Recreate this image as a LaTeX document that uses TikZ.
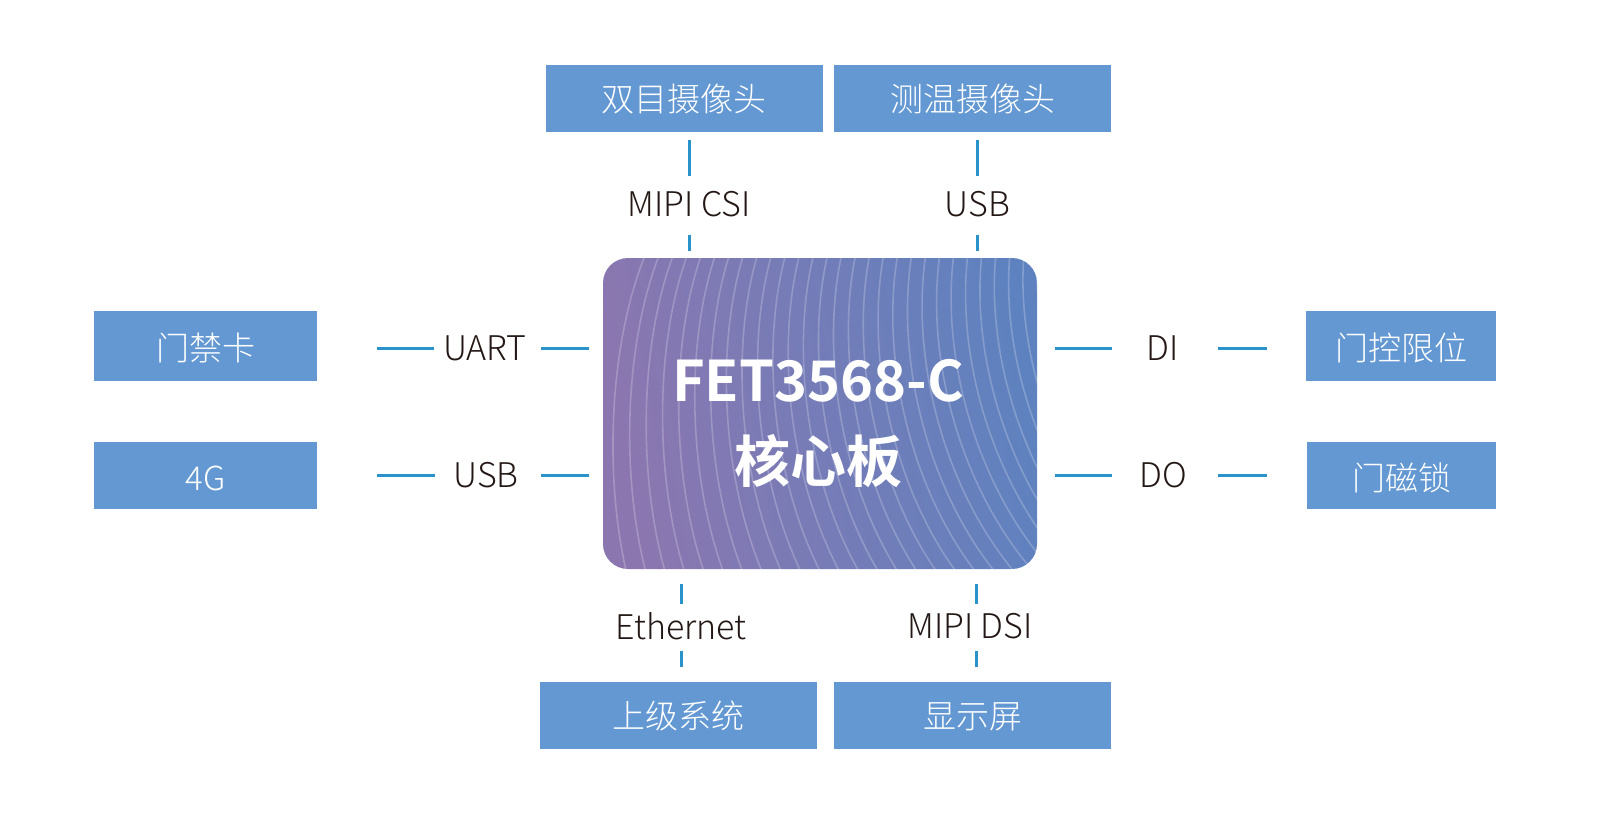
\documentclass[tikz,border=0pt]{standalone}
\usepackage{fontspec}
\setmainfont{Noto Sans CJK SC}[UprightFont={* Light},BoldFont={* Bold}]
\usepackage{xcolor}
\usepackage{tikz}
\definecolor{boxblue}{HTML}{6398D3}
\definecolor{linkblue}{HTML}{2A93CC}
\definecolor{labelblack}{HTML}{231815}
\definecolor{corepurple}{HTML}{8C76AF}
\definecolor{corecyan}{HTML}{5E82BF}
\tikzset{
        devbox/.style={fill=boxblue, text=white, font=\fontsize{33}{33}\selectfont, text height=26, text depth=0, inner sep=0pt, outer sep=0pt},
        hlabel/.style={text=labelblack, font=\fontsize{34}{34}\selectfont, minimum width=102, minimum height=40, inner sep=0pt, outer sep=0pt},
        vlabel/.style={text=labelblack, font=\fontsize{34}{34}\selectfont, inner sep=0pt, outer sep=0pt},
        link/.style={draw=linkblue, line width=3},
        corebox/.style={rounded corners=25, minimum width=434, minimum height=311, left color=corepurple, right color=corecyan, shading angle=100, inner sep=0pt, outer sep=0pt},
        coretitle/.style={text=white, align=center, inner sep=0pt, outer sep=0pt, font=\fontsize{56}{81}\selectfont\bfseries}
}
\begin{document}
\begin{tikzpicture}[x=1pt, y=-1pt]
        \useasboundingbox (0,0) rectangle (1600,839);

        \node[corebox, path picture={
            \foreach \i in {0,...,28} {
                \pgfmathsetmacro{\sx}{-174+14*\i}
                \pgfmathsetmacro{\ax}{-210+15*\i}
                \pgfmathsetmacro{\ay}{-73.5+0.8*\i}
                \pgfmathsetmacro{\bx}{-217+17*\i}
                \pgfmathsetmacro{\by}{59.5+0.8*\i}
                \pgfmathsetmacro{\ex}{-193+19.5*\i}
                \draw[white, opacity=0.22, line width=1.6] (\sx,-160.5) .. controls (\ax,\ay) and (\bx,\by) .. (\ex,161.5);
            }
        }] (core) at (820,413.5) {};
        \node[coretitle] (title) at (818,424) {FET3568-C\\核心板};

        \node[devbox, minimum width=277, minimum height=67] (binocular) at (684,98) {双目摄像头};
        \node[devbox, minimum width=277, minimum height=67] (thermal) at (972.5,98) {测温摄像头};
        \node[devbox, minimum width=223, minimum height=70, text height=28] (card) at (205.5,346) {门禁卡};
        \node[devbox, minimum width=223, minimum height=67, text height=30] (modem) at (205.5,475.5) {4G};
        \node[devbox, minimum width=190, minimum height=70, text height=28] (limit) at (1401,346) {门控限位};
        \node[devbox, minimum width=189, minimum height=67, text height=29] (lock) at (1401.5,475.5) {门磁锁};
        \node[devbox, minimum width=277, minimum height=67] (host) at (678.5,715.5) {上级系统};
        \node[devbox, minimum width=277, minimum height=67] (screen) at (972.5,715.5) {显示屏};

        \node[vlabel, minimum height=56] (csi) at (689,204) {MIPI CSI};
        \node[vlabel, minimum height=56] (usbtop) at (977.5,204) {USB};
        \node[hlabel] (uart) at (485,348) {UART};
        \node[hlabel] (usbleft) at (486,475) {USB};
        \node[hlabel] (di) at (1163,348) {DI};
        \node[hlabel] (do) at (1163,475) {DO};
        \node[vlabel, minimum height=44] (ethernet) at (681,626) {Ethernet};
        \node[vlabel, minimum height=44] (dsi) at (970,626) {MIPI DSI};

        \draw[link, shorten >=8.5] (csi.north) -- (csi.north |- binocular.south);
        \draw[link, shorten <=3, shorten >=7] (csi.south) -- (csi.south |- core.north);
        \draw[link, shorten >=8.5] (usbtop.north) -- (usbtop.north |- thermal.south);
        \draw[link, shorten <=3, shorten >=7] (usbtop.south) -- (usbtop.south |- core.north);

        \draw[link, shorten >=59.5] (uart.west) -- (card.east |- uart.west);
        \draw[link, shorten <=5, shorten >=14] (uart.east) -- (core.west |- uart.east);
        \draw[link, shorten >=59.5] (usbleft.west) -- (modem.east |- usbleft.west);
        \draw[link, shorten <=4, shorten >=14] (usbleft.east) -- (core.west |- usbleft.east);

        \draw[link, shorten >=18] (di.west) -- (core.east |- di.west);
        \draw[link, shorten <=4, shorten >=39] (di.east) -- (limit.west |- di.east);
        \draw[link, shorten >=18] (do.west) -- (core.east |- do.west);
        \draw[link, shorten <=4, shorten >=40] (do.east) -- (lock.west |- do.east);

        \draw[link, shorten >=15] (ethernet.north) -- (ethernet.north |- core.south);
        \draw[link, shorten <=3, shorten >=15] (ethernet.south) -- (ethernet.south |- host.north);
        \draw[link, shorten >=15] ([xshift=6.5]dsi.north) -- ([xshift=6.5]dsi.north |- core.south);
        \draw[link, shorten <=3, shorten >=15] ([xshift=6.5]dsi.south) -- ([xshift=6.5]dsi.south |- screen.north);
\end{tikzpicture}
\end{document}
